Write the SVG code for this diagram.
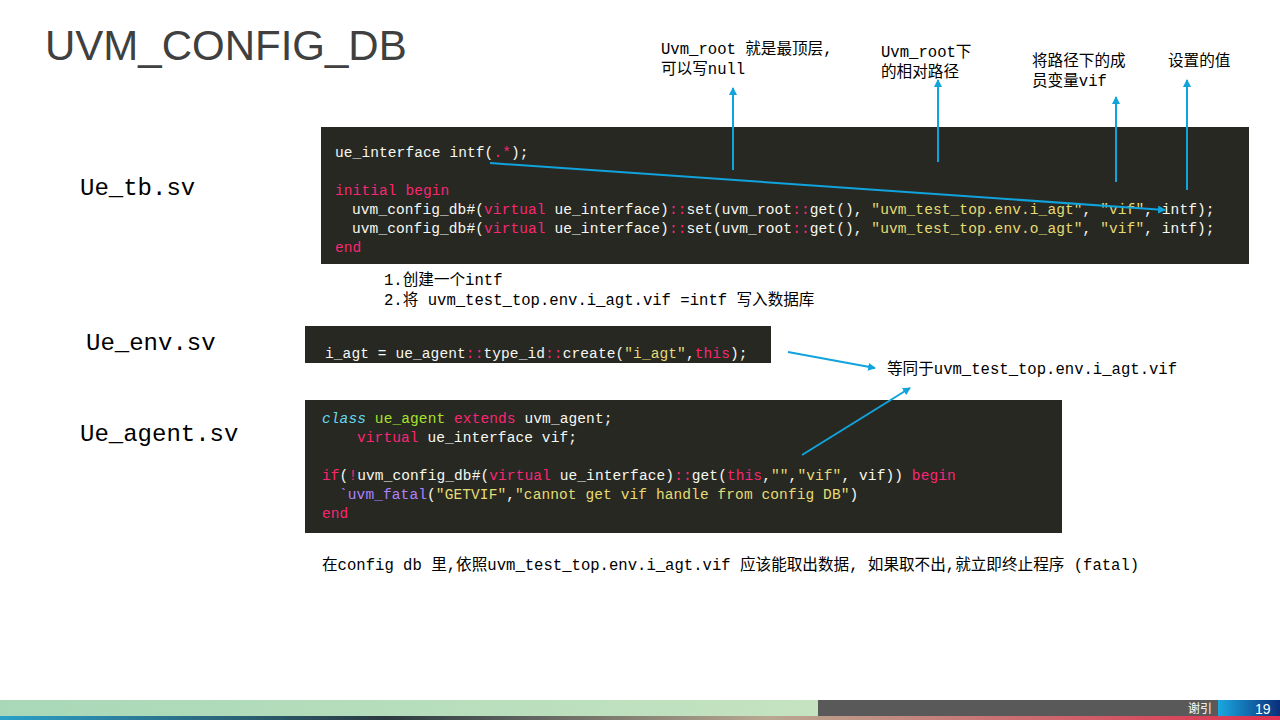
<svg xmlns="http://www.w3.org/2000/svg" width="1280" height="720" viewBox="0 0 1280 720">
<defs>
<marker id="ah" markerWidth="8" markerHeight="8" refX="7" refY="4" orient="auto" markerUnits="userSpaceOnUse"><path d="M0,0 L8,4 L0,8 z" fill="#10a3dc"/></marker>
<linearGradient id="gl" x1="0" x2="1"><stop offset="0" stop-color="#a8d8b8"/><stop offset="1" stop-color="#c5e3c0"/></linearGradient>
<linearGradient id="gb" x1="0" x2="1"><stop offset="0" stop-color="#1aa7e0"/><stop offset="1" stop-color="#0a2f7a"/></linearGradient>
<linearGradient id="gs" x1="0" x2="1"><stop offset="0" stop-color="#2aa0c8"/><stop offset="0.3" stop-color="#2a3a40"/><stop offset="0.6" stop-color="#b8a890"/><stop offset="1" stop-color="#e03050"/></linearGradient>
<style>
.code{font-family:"Liberation Mono","DejaVu Sans Mono",monospace;font-size:14.5px;letter-spacing:0.1px;fill:#f8f8f2}
.k{fill:#f92672}.s{fill:#e6db74}.c{fill:#66d9ef;font-style:italic}.g{fill:#a6e22e}.p{fill:#ae81ff}
.lbl{font-family:"Liberation Mono","DejaVu Sans Mono",monospace;font-size:24px;fill:#000}
.note{font-family:"Liberation Mono","Noto Sans CJK SC",monospace;font-size:15.6px;fill:#000}
.ar{stroke:#10a3dc;stroke-width:2;fill:none;marker-end:url(#ah)}
</style>
</defs>
<rect width="1280" height="720" fill="#fff"/>
<text x="45" y="60" font-family="Liberation Sans,Noto Sans,sans-serif" font-size="42" fill="#404040">UVM_CONFIG_DB</text>

<g id="tb">
<text class="lbl" x="80" y="195">Ue_tb.sv</text>
<rect x="321" y="127" width="928" height="137" fill="#272822"/>
<text class="code" x="335" y="157">ue_interface intf(<tspan class="k">.*</tspan>);</text>
<text class="code" x="335" y="195"><tspan class="k">initial begin</tspan></text>
<text class="code" x="352" y="214">uvm_config_db#(<tspan class="k">virtual</tspan> ue_interface)<tspan class="k">::</tspan>set(uvm_root<tspan class="k">::</tspan>get(), <tspan class="s">"uvm_test_top.env.i_agt"</tspan>, <tspan class="s">"vif"</tspan>, intf);</text>
<text class="code" x="352" y="233">uvm_config_db#(<tspan class="k">virtual</tspan> ue_interface)<tspan class="k">::</tspan>set(uvm_root<tspan class="k">::</tspan>get(), <tspan class="s">"uvm_test_top.env.o_agt"</tspan>, <tspan class="s">"vif"</tspan>, intf);</text>
<text class="code" x="335" y="252"><tspan class="k">end</tspan></text>
<text class="note" x="384" y="285">1.创建一个intf</text>
<text class="note" x="384" y="305">2.将 uvm_test_top.env.i_agt.vif =intf 写入数据库</text>
</g>

<g id="env">
<text class="lbl" x="86" y="350">Ue_env.sv</text>
<rect x="305" y="326" width="466" height="37" fill="#272822"/>
<text class="code" x="325" y="358">i_agt = ue_agent<tspan class="k">::</tspan>type_id<tspan class="k">::</tspan>create(<tspan class="s">"i_agt"</tspan>,<tspan class="k">this</tspan>);</text>
</g>

<g id="agent">
<text class="lbl" x="80" y="441">Ue_agent.sv</text>
<rect x="305" y="400" width="757" height="133" fill="#272822"/>
<text class="code" x="322" y="423"><tspan class="c">class</tspan> <tspan class="g">ue_agent</tspan> <tspan class="k">extends</tspan> uvm_agent;</text>
<text class="code" x="357" y="442"><tspan class="k">virtual</tspan> ue_interface vif;</text>
<text class="code" x="322" y="480"><tspan class="k">if</tspan>(<tspan class="k">!</tspan>uvm_config_db#(<tspan class="k">virtual</tspan> ue_interface)<tspan class="k">::</tspan>get(<tspan class="k">this</tspan>,<tspan class="s">""</tspan>,<tspan class="s">"vif"</tspan>, vif)) <tspan class="k">begin</tspan></text>
<text class="code" x="339" y="499"><tspan class="p">`uvm_fatal</tspan>(<tspan class="s">"GETVIF"</tspan>,<tspan class="s">"cannot get vif handle from config DB"</tspan>)</text>
<text class="code" x="322" y="518"><tspan class="k">end</tspan></text>
</g>

<g id="notes">
<text class="note" x="661" y="54">Uvm_root 就是最顶层,</text>
<text class="note" x="661" y="74">可以写null</text>
<text class="note" x="881" y="57">Uvm_root下</text>
<text class="note" x="881" y="77">的相对路径</text>
<text class="note" x="1032" y="66">将路径下的成</text>
<text class="note" x="1032" y="86">员变量vif</text>
<text class="note" x="1168" y="66">设置的值</text>
<text class="note" x="887" y="374">等同于uvm_test_top.env.i_agt.vif</text>
<text class="note" x="322" y="570">在config db 里,依照uvm_test_top.env.i_agt.vif 应该能取出数据, 如果取不出,就立即终止程序 (fatal)</text>
</g>

<g id="connectors">
<line class="ar" x1="733" y1="170" x2="733" y2="88"/>
<line class="ar" x1="938" y1="162" x2="938" y2="80"/>
<line class="ar" x1="1116" y1="182" x2="1116" y2="97"/>
<line class="ar" x1="1187" y1="190" x2="1187" y2="80"/>
<line class="ar" x1="490" y1="163" x2="1165" y2="210"/>
<line class="ar" x1="788" y1="352" x2="875" y2="368"/>
<line class="ar" x1="802" y1="455" x2="910" y2="388"/>
</g>

<g id="footer">
<rect x="0" y="700" width="818" height="16" fill="url(#gl)"/>
<rect x="818" y="700" width="400" height="16" fill="#595959"/>
<rect x="1218" y="700" width="62" height="16" fill="url(#gb)"/>
<rect x="0" y="716" width="1280" height="4" fill="url(#gs)"/>
<text x="1188" y="713" font-family="Noto Sans CJK SC,sans-serif" font-size="12" fill="#fff">谢引</text>
<text x="1255" y="714" font-family="Liberation Sans,sans-serif" font-size="14" fill="#fff">19</text>
</g>
</svg>
